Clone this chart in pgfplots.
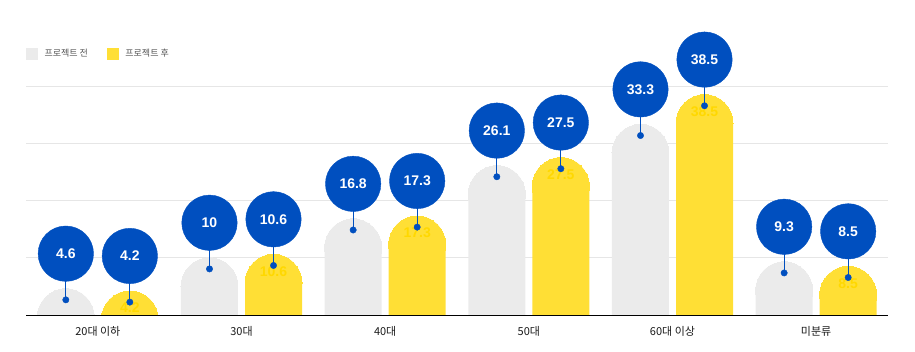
\documentclass[border=0pt]{standalone}
\usepackage{fontspec}
\setmainfont{Noto Sans CJK KR}
\newfontfamily\numfont{Liberation Sans}
\usepackage{pgfplots}
\usepackage{pgfplotstable}
\pgfplotsset{compat=1.18}
\definecolor{cgrey}{HTML}{EBEBEB}
\definecolor{cyel}{HTML}{FFDF35}
\definecolor{cytext}{HTML}{FFD800}
\definecolor{cblue}{HTML}{004FBF}
\definecolor{cgrid}{HTML}{E6E6E6}
\definecolor{ctext}{HTML}{1A1A1A}
\definecolor{clegend}{HTML}{555555}
\pgfplotstableread{
x a b
0 4.6 4.2
1 10 10.6
2 16.8 17.3
3 26.1 27.5
4 33.3 38.5
5 9.3 8.5
}\data
\begin{document}
\begin{tikzpicture}
\begin{axis}[
  at={(26pt,0pt)}, anchor=south west,
  scale only axis, width=862pt, height=322.25pt,
  xmin=-0.5, xmax=5.5, ymin=-6.288, ymax=50,
  axis line style={draw=none},
  xtick=\empty,
  ytick={10,20,30,40}, yticklabels={},
  major tick length=0pt,
  ymajorgrids, grid style={color=cgrid, line width=0.8pt},
  clip marker paths=true,
  legend columns=2,
  legend style={at={(0,0.9235)}, anchor=west, draw=none, fill=none, inner sep=0pt,
    font=\fontsize{9}{9}\selectfont, text=clegend,
    /tikz/every odd column/.append style={column sep=5pt},
    /tikz/every even column/.append style={column sep=17pt}},
  legend cell align=left,
]
\addlegendimage{legend image code/.code={\fill[cgrey] (0pt,-5.5pt) rectangle (11pt,5.5pt);}}
\addlegendentry{프로젝트 전}
\addlegendimage{legend image code/.code={\fill[cyel] (0pt,-5.5pt) rectangle (11pt,5.5pt);}}
\addlegendentry{프로젝트 후}
% grey bars
\addplot[forget plot, cgrey, ybar, bar width=57pt, bar shift=0pt, fill=cgrey, draw=none]
  table[x expr=\thisrow{x}-0.2228, y expr={max(\thisrow{a}-4.98,0)}] {\data};
\addplot[forget plot, cgrey, only marks, mark=*, mark size=28.5pt, mark options={draw=cgrey, fill=cgrey, line width=0pt}]
  table[x expr=\thisrow{x}-0.2228, y expr=\thisrow{a}-4.98] {\data};
% yellow bars
\addplot[forget plot, cyel, ybar, bar width=57pt, bar shift=0pt, fill=cyel, draw=none]
  table[x expr=\thisrow{x}+0.2228, y expr={max(\thisrow{b}-4.98,0)}] {\data};
\addplot[forget plot, cyel, only marks, mark=*, mark size=28.5pt, mark options={draw=cyel, fill=cyel, line width=0pt}]
  table[x expr=\thisrow{x}+0.2228, y expr=\thisrow{b}-4.98] {\data};
% cover below baseline
\addplot[forget plot, fill=white, draw=none] coordinates {(-0.5,-6.288) (5.5,-6.288) (5.5,0) (-0.5,0)} -- cycle;
% baseline
\addplot[forget plot, black, line width=1pt, mark=none] coordinates {(-0.5,0) (5.5,0)};
% category labels
\addplot[forget plot, draw=none, mark=none, nodes near coords, point meta=explicit symbolic,
  every node near coord/.append style={anchor=center, text=ctext, font=\fontsize{11}{11}\selectfont}]
  coordinates {(0,-2.8) [20대 이하] (1,-2.8) [30대] (2,-2.8) [40대] (3,-2.8) [50대] (4,-2.8) [60대 이상] (5,-2.8) [미분류]};
% faint labels in yellow bars
\addplot[forget plot, draw=none, mark=none, nodes near coords, point meta=explicit symbolic,
  every node near coord/.append style={anchor=center, text=cytext, font=\numfont\bfseries\fontsize{14}{14}\selectfont}]
  table[x expr=\thisrow{x}+0.2228, y expr=\thisrow{b}-2.97, meta=b] {\data};
% stems and dots
\addplot[forget plot, cblue, only marks, mark=*, mark size=3.2pt, mark options={draw=cblue, fill=cblue},
  error bars/.cd, y dir=plus, y fixed=8.06, error mark=none, error bar style={line width=1.3pt, cblue}]
  table[x expr=\thisrow{x}-0.2228, y expr=\thisrow{a}-1.95] {\data};
\addplot[forget plot, cblue, only marks, mark=*, mark size=3.2pt, mark options={draw=cblue, fill=cblue},
  error bars/.cd, y dir=plus, y fixed=8.06, error mark=none, error bar style={line width=1.3pt, cblue}]
  table[x expr=\thisrow{x}+0.2228, y expr=\thisrow{b}-1.95] {\data};
% bubbles
\addplot[forget plot, cblue, only marks, mark=*, mark size=27.7pt, mark options={draw=cblue, fill=cblue},
  nodes near coords, point meta=explicit symbolic,
  every node near coord/.append style={anchor=center, text=white, font=\numfont\bfseries\fontsize{14}{14}\selectfont}]
  table[x expr=\thisrow{x}-0.2228, y expr=\thisrow{a}+6.11, meta=a] {\data};
\addplot[forget plot, cblue, only marks, mark=*, mark size=27.7pt, mark options={draw=cblue, fill=cblue},
  nodes near coords, point meta=explicit symbolic,
  every node near coord/.append style={anchor=center, text=white, font=\numfont\bfseries\fontsize{14}{14}\selectfont}]
  table[x expr=\thisrow{x}+0.2228, y expr=\thisrow{b}+6.11, meta=b] {\data};
\end{axis}
\pgfresetboundingbox
\useasboundingbox (0,0) rectangle (915pt,351pt);
\end{tikzpicture}
\end{document}
